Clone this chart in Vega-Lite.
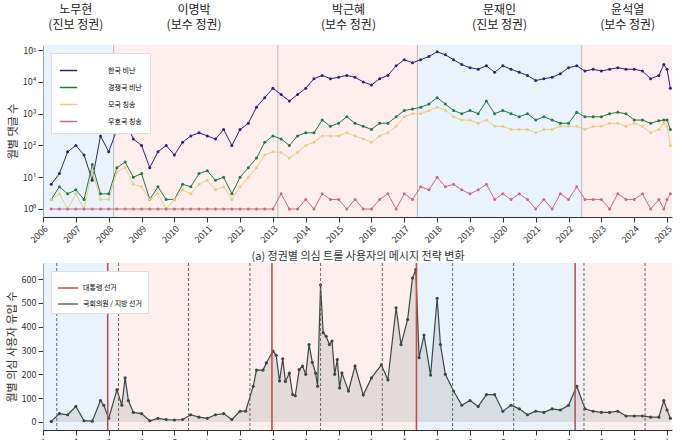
{
  "$schema": "https://vega.github.io/schema/vega-lite/v6.json",
  "background": "white",
  "padding": {"left": 6, "top": 4, "right": 5, "bottom": 0},
  "config": {
    "font": "Noto Sans CJK KR",
    "view": {"stroke": null},
    "axis": {"grid": false, "domainColor": "#333", "tickColor": "#333", "labelColor": "#333", "labelFontSize": 9, "titleFontSize": 11, "titleFontWeight": "normal", "titleColor": "#333"}
  },
  "resolve": {"scale": {"color": "independent", "fill": "independent"}, "legend": {"color": "independent"}},
  "datasets": {
    "regions": [
      {"name": "노무현", "sub": "(진보 정권)", "party": "진보", "start": 2006, "end": 2008.15, "mid": 2007.0},
      {"name": "이명박", "sub": "(보수 정권)", "party": "보수", "start": 2008.15, "end": 2013.15, "mid": 2010.6},
      {"name": "박근혜", "sub": "(보수 정권)", "party": "보수", "start": 2013.15, "end": 2017.4, "mid": 2015.3},
      {"name": "문재인", "sub": "(진보 정권)", "party": "진보", "start": 2017.4, "end": 2022.4, "mid": 2019.9},
      {"name": "윤석열", "sub": "(보수 정권)", "party": "보수", "start": 2022.4, "end": 2025.15, "mid": 2023.8}
    ],
    "elections": [
      {"t": 2007.97, "kind": "대통령 선거"},
      {"t": 2012.97, "kind": "대통령 선거"},
      {"t": 2017.37, "kind": "대통령 선거"},
      {"t": 2022.2, "kind": "대통령 선거"},
      {"t": 2006.42, "kind": "국회의원 / 지방 선거"},
      {"t": 2008.3, "kind": "국회의원 / 지방 선거"},
      {"t": 2010.43, "kind": "국회의원 / 지방 선거"},
      {"t": 2012.3, "kind": "국회의원 / 지방 선거"},
      {"t": 2014.45, "kind": "국회의원 / 지방 선거"},
      {"t": 2016.33, "kind": "국회의원 / 지방 선거"},
      {"t": 2018.47, "kind": "국회의원 / 지방 선거"},
      {"t": 2020.33, "kind": "국회의원 / 지방 선거"},
      {"t": 2022.47, "kind": "국회의원 / 지방 선거"},
      {"t": 2024.33, "kind": "국회의원 / 지방 선거"}
    ],
    "comments": [
      {"t": 2006.25, "한국 비난": 6, "경쟁국 비난": 2, "모국 칭송": 2, "우호국 칭송": 1},
      {"t": 2006.5, "한국 비난": 13, "경쟁국 비난": 5, "모국 칭송": 3, "우호국 칭송": 1},
      {"t": 2006.75, "한국 비난": 63, "경쟁국 비난": 3, "모국 칭송": 1, "우호국 칭송": 1},
      {"t": 2007.0, "한국 비난": 100, "경쟁국 비난": 4, "모국 칭송": 3, "우호국 칭송": 1},
      {"t": 2007.25, "한국 비난": 50, "경쟁국 비난": 2, "모국 칭송": 1, "우호국 칭송": 1},
      {"t": 2007.5, "한국 비난": 8, "경쟁국 비난": 25, "모국 칭송": 16, "우호국 칭송": 1},
      {"t": 2007.75, "한국 비난": 200, "경쟁국 비난": 3, "모국 칭송": 2, "우호국 칭송": 1},
      {"t": 2008.0, "한국 비난": 63, "경쟁국 비난": 3, "모국 칭송": 2, "우호국 칭송": 1},
      {"t": 2008.25, "한국 비난": 316, "경쟁국 비난": 20, "모국 칭송": 15, "우호국 칭송": 1},
      {"t": 2008.5, "한국 비난": 630, "경쟁국 비난": 30, "모국 칭송": 20, "우호국 칭송": 1},
      {"t": 2008.75, "한국 비난": 160, "경쟁국 비난": 10, "모국 칭송": 6, "우호국 칭송": 1},
      {"t": 2009.0, "한국 비난": 100, "경쟁국 비난": 13, "모국 칭송": 5, "우호국 칭송": 1},
      {"t": 2009.25, "한국 비난": 20, "경쟁국 비난": 2, "모국 칭송": 2, "우호국 칭송": 1},
      {"t": 2009.5, "한국 비난": 63, "경쟁국 비난": 5, "모국 칭송": 3, "우호국 칭송": 1},
      {"t": 2009.75, "한국 비난": 100, "경쟁국 비난": 2, "모국 칭송": 1, "우호국 칭송": 1},
      {"t": 2010.0, "한국 비난": 50, "경쟁국 비난": 2, "모국 칭송": 2, "우호국 칭송": 1},
      {"t": 2010.25, "한국 비난": 126, "경쟁국 비난": 6, "모국 칭송": 4, "우호국 칭송": 1},
      {"t": 2010.5, "한국 비난": 200, "경쟁국 비난": 5, "모국 칭송": 3, "우호국 칭송": 1},
      {"t": 2010.75, "한국 비난": 250, "경쟁국 비난": 13, "모국 칭송": 6, "우호국 칭송": 1},
      {"t": 2011.0, "한국 비난": 200, "경쟁국 비난": 16, "모국 칭송": 8, "우호국 칭송": 1},
      {"t": 2011.25, "한국 비난": 160, "경쟁국 비난": 8, "모국 칭송": 4, "우호국 칭송": 1},
      {"t": 2011.5, "한국 비난": 316, "경쟁국 비난": 10, "모국 칭송": 5, "우호국 칭송": 1},
      {"t": 2011.75, "한국 비난": 100, "경쟁국 비난": 3, "모국 칭송": 2, "우호국 칭송": 1},
      {"t": 2012.0, "한국 비난": 316, "경쟁국 비난": 10, "모국 칭송": 5, "우호국 칭송": 1},
      {"t": 2012.25, "한국 비난": 500, "경쟁국 비난": 20, "모국 칭송": 10, "우호국 칭송": 1},
      {"t": 2012.5, "한국 비난": 1600, "경쟁국 비난": 40, "모국 칭송": 20, "우호국 칭송": 1},
      {"t": 2012.75, "한국 비난": 3200, "경쟁국 비난": 126, "모국 칭송": 50, "우호국 칭송": 1},
      {"t": 2013.0, "한국 비난": 6300, "경쟁국 비난": 200, "모국 칭송": 63, "우호국 칭송": 1},
      {"t": 2013.25, "한국 비난": 4000, "경쟁국 비난": 160, "모국 칭송": 60, "우호국 칭송": 3},
      {"t": 2013.5, "한국 비난": 2500, "경쟁국 비난": 100, "모국 칭송": 40, "우호국 칭송": 1},
      {"t": 2013.75, "한국 비난": 4000, "경쟁국 비난": 200, "모국 칭송": 60, "우호국 칭송": 1},
      {"t": 2014.0, "한국 비난": 6300, "경쟁국 비난": 250, "모국 칭송": 100, "우호국 칭송": 2},
      {"t": 2014.25, "한국 비난": 12600, "경쟁국 비난": 250, "모국 칭송": 126, "우호국 칭송": 1},
      {"t": 2014.5, "한국 비난": 16000, "경쟁국 비난": 630, "모국 칭송": 200, "우호국 칭송": 3},
      {"t": 2014.75, "한국 비난": 12600, "경쟁국 비난": 400, "모국 칭송": 200, "우호국 칭송": 2},
      {"t": 2015.0, "한국 비난": 14000, "경쟁국 비난": 500, "모국 칭송": 200, "우호국 칭송": 2},
      {"t": 2015.25, "한국 비난": 16000, "경쟁국 비난": 800, "모국 칭송": 250, "우호국 칭송": 1},
      {"t": 2015.5, "한국 비난": 14000, "경쟁국 비난": 500, "모국 칭송": 200, "우호국 칭송": 2},
      {"t": 2015.75, "한국 비난": 10000, "경쟁국 비난": 400, "모국 칭송": 160, "우호국 칭송": 1},
      {"t": 2016.0, "한국 비난": 8000, "경쟁국 비난": 320, "모국 칭송": 126, "우호국 칭송": 1},
      {"t": 2016.25, "한국 비난": 12600, "경쟁국 비난": 500, "모국 칭송": 200, "우호국 칭송": 2},
      {"t": 2016.5, "한국 비난": 16000, "경쟁국 비난": 500, "모국 칭송": 250, "우호국 칭송": 3},
      {"t": 2016.75, "한국 비난": 32000, "경쟁국 비난": 800, "모국 칭송": 400, "우호국 칭송": 1},
      {"t": 2017.0, "한국 비난": 50000, "경쟁국 비난": 1260, "모국 칭송": 800, "우호국 칭송": 3},
      {"t": 2017.25, "한국 비난": 40000, "경쟁국 비난": 1400, "모국 칭송": 1000, "우호국 칭송": 2},
      {"t": 2017.5, "한국 비난": 50000, "경쟁국 비난": 1600, "모국 칭송": 1000, "우호국 칭송": 5},
      {"t": 2017.75, "한국 비난": 63000, "경쟁국 비난": 2000, "모국 칭송": 1260, "우호국 칭송": 4},
      {"t": 2018.0, "한국 비난": 89000, "경쟁국 비난": 3200, "모국 칭송": 1600, "우호국 칭송": 10},
      {"t": 2018.25, "한국 비난": 71000, "경쟁국 비난": 2000, "모국 칭송": 1260, "우호국 칭송": 5},
      {"t": 2018.5, "한국 비난": 50000, "경쟁국 비난": 1260, "모국 칭송": 800, "우호국 칭송": 6},
      {"t": 2018.75, "한국 비난": 35000, "경쟁국 비난": 1000, "모국 칭송": 630, "우호국 칭송": 4},
      {"t": 2019.0, "한국 비난": 28000, "경쟁국 비난": 1260, "모국 칭송": 630, "우호국 칭송": 3},
      {"t": 2019.25, "한국 비난": 25000, "경쟁국 비난": 1000, "모국 칭송": 500, "우호국 칭송": 4},
      {"t": 2019.5, "한국 비난": 32000, "경쟁국 비난": 2500, "모국 칭송": 630, "우호국 칭송": 6},
      {"t": 2019.75, "한국 비난": 20000, "경쟁국 비난": 1000, "모국 칭송": 400, "우호국 칭송": 2},
      {"t": 2020.0, "한국 비난": 32000, "경쟁국 비난": 1260, "모국 칭송": 400, "우호국 칭송": 3},
      {"t": 2020.25, "한국 비난": 25000, "경쟁국 비난": 1000, "모국 칭송": 320, "우호국 칭송": 2},
      {"t": 2020.5, "한국 비난": 20000, "경쟁국 비난": 800, "모국 칭송": 320, "우호국 칭송": 3},
      {"t": 2020.75, "한국 비난": 16000, "경쟁국 비난": 1000, "모국 칭송": 320, "우호국 칭송": 2},
      {"t": 2021.0, "한국 비난": 11000, "경쟁국 비난": 630, "모국 칭송": 250, "우호국 칭송": 1},
      {"t": 2021.25, "한국 비난": 12600, "경쟁국 비난": 800, "모국 칭송": 320, "우호국 칭송": 2},
      {"t": 2021.5, "한국 비난": 14000, "경쟁국 비난": 630, "모국 칭송": 320, "우호국 칭송": 1},
      {"t": 2021.75, "한국 비난": 18000, "경쟁국 비난": 500, "모국 칭송": 400, "우호국 칭송": 3},
      {"t": 2022.0, "한국 비난": 28000, "경쟁국 비난": 500, "모국 칭송": 400, "우호국 칭송": 2},
      {"t": 2022.25, "한국 비난": 32000, "경쟁국 비난": 1100, "모국 칭송": 400, "우호국 칭송": 5},
      {"t": 2022.5, "한국 비난": 22000, "경쟁국 비난": 800, "모국 칭송": 320, "우호국 칭송": 2},
      {"t": 2022.75, "한국 비난": 25000, "경쟁국 비난": 800, "모국 칭송": 400, "우호국 칭송": 2},
      {"t": 2023.0, "한국 비난": 22000, "경쟁국 비난": 800, "모국 칭송": 400, "우호국 칭송": 2},
      {"t": 2023.25, "한국 비난": 25000, "경쟁국 비난": 1000, "모국 칭송": 500, "우호국 칭송": 1},
      {"t": 2023.5, "한국 비난": 28000, "경쟁국 비난": 1100, "모국 칭송": 500, "우호국 칭송": 3},
      {"t": 2023.75, "한국 비난": 25000, "경쟁국 비난": 1000, "모국 칭송": 400, "우호국 칭송": 2},
      {"t": 2024.0, "한국 비난": 25000, "경쟁국 비난": 630, "모국 칭송": 500, "우호국 칭송": 2},
      {"t": 2024.25, "한국 비난": 22000, "경쟁국 비난": 630, "모국 칭송": 400, "우호국 칭송": 3},
      {"t": 2024.5, "한국 비난": 12600, "경쟁국 비난": 500, "모국 칭송": 250, "우호국 칭송": 1},
      {"t": 2024.75, "한국 비난": 16000, "경쟁국 비난": 600, "모국 칭송": 320, "우호국 칭송": 2},
      {"t": 2024.9, "한국 비난": 35000, "경쟁국 비난": 630, "모국 칭송": 500, "우호국 칭송": 1},
      {"t": 2025.0, "한국 비난": 25000, "경쟁국 비난": 630, "모국 칭송": 400, "우호국 칭송": 2},
      {"t": 2025.1, "한국 비난": 6300, "경쟁국 비난": 320, "모국 칭송": 100, "우호국 칭송": 3}
    ],
    "inflow": [
      {"t": 2006.25, "n": 2}, {"t": 2006.5, "n": 35}, {"t": 2006.75, "n": 30}, {"t": 2007.0, "n": 65},
      {"t": 2007.25, "n": 5}, {"t": 2007.5, "n": 3}, {"t": 2007.75, "n": 90}, {"t": 2007.85, "n": 70},
      {"t": 2008.0, "n": 15}, {"t": 2008.25, "n": 135}, {"t": 2008.4, "n": 70}, {"t": 2008.5, "n": 185},
      {"t": 2008.6, "n": 90}, {"t": 2008.75, "n": 40}, {"t": 2009.0, "n": 35}, {"t": 2009.25, "n": 5},
      {"t": 2009.5, "n": 15}, {"t": 2009.75, "n": 10}, {"t": 2010.0, "n": 8}, {"t": 2010.25, "n": 10},
      {"t": 2010.5, "n": 30}, {"t": 2010.75, "n": 20}, {"t": 2011.0, "n": 15}, {"t": 2011.25, "n": 30},
      {"t": 2011.5, "n": 35}, {"t": 2011.75, "n": 10}, {"t": 2012.0, "n": 45}, {"t": 2012.17, "n": 45},
      {"t": 2012.4, "n": 150}, {"t": 2012.5, "n": 218}, {"t": 2012.7, "n": 218}, {"t": 2012.8, "n": 248},
      {"t": 2013.0, "n": 298}, {"t": 2013.1, "n": 280}, {"t": 2013.2, "n": 172}, {"t": 2013.3, "n": 265},
      {"t": 2013.38, "n": 170}, {"t": 2013.5, "n": 205}, {"t": 2013.6, "n": 115}, {"t": 2013.68, "n": 110},
      {"t": 2013.8, "n": 220}, {"t": 2013.9, "n": 235}, {"t": 2014.0, "n": 200}, {"t": 2014.1, "n": 325},
      {"t": 2014.2, "n": 250}, {"t": 2014.3, "n": 205}, {"t": 2014.36, "n": 150}, {"t": 2014.45, "n": 575},
      {"t": 2014.53, "n": 375}, {"t": 2014.62, "n": 360}, {"t": 2014.72, "n": 325}, {"t": 2014.8, "n": 340},
      {"t": 2014.88, "n": 200}, {"t": 2014.96, "n": 262}, {"t": 2015.03, "n": 143}, {"t": 2015.1, "n": 206},
      {"t": 2015.3, "n": 130}, {"t": 2015.5, "n": 235}, {"t": 2015.75, "n": 113}, {"t": 2016.0, "n": 185},
      {"t": 2016.3, "n": 240}, {"t": 2016.5, "n": 177}, {"t": 2016.75, "n": 480}, {"t": 2016.9, "n": 325},
      {"t": 2017.1, "n": 430}, {"t": 2017.25, "n": 605}, {"t": 2017.35, "n": 640}, {"t": 2017.45, "n": 270},
      {"t": 2017.6, "n": 365}, {"t": 2017.8, "n": 197}, {"t": 2018.0, "n": 520}, {"t": 2018.1, "n": 325},
      {"t": 2018.25, "n": 200}, {"t": 2018.5, "n": 130}, {"t": 2018.75, "n": 70}, {"t": 2019.0, "n": 90},
      {"t": 2019.25, "n": 65}, {"t": 2019.5, "n": 115}, {"t": 2019.75, "n": 115}, {"t": 2020.0, "n": 45},
      {"t": 2020.25, "n": 70}, {"t": 2020.5, "n": 55}, {"t": 2020.75, "n": 30}, {"t": 2021.0, "n": 45},
      {"t": 2021.25, "n": 40}, {"t": 2021.5, "n": 55}, {"t": 2021.75, "n": 50}, {"t": 2022.0, "n": 70},
      {"t": 2022.25, "n": 150}, {"t": 2022.5, "n": 55}, {"t": 2022.75, "n": 45}, {"t": 2023.0, "n": 40},
      {"t": 2023.25, "n": 40}, {"t": 2023.5, "n": 45}, {"t": 2023.75, "n": 25}, {"t": 2024.0, "n": 25},
      {"t": 2024.25, "n": 25}, {"t": 2024.5, "n": 20}, {"t": 2024.75, "n": 20}, {"t": 2024.9, "n": 90},
      {"t": 2025.0, "n": 50}, {"t": 2025.1, "n": 15}
    ]
  },
  "vconcat": [
    {
      "width": 629,
      "height": 172,
      "encoding": {
        "x": {"type": "quantitative", "scale": {"domain": [2006, 2025.15], "nice": false, "zero": false},
          "axis": {"values": [2006,2007,2008,2009,2010,2011,2012,2013,2014,2015,2016,2017,2018,2019,2020,2021,2022,2023,2024,2025], "format": "d", "labelAngle": -45, "labelAlign": "right", "labelBaseline": "top", "title": "(a) 정권별 의심 트롤 사용자의 메시지 전략 변화", "titlePadding": 6}}
      },
      "layer": [
        {
          "data": {"name": "regions"},
          "mark": {"type": "rect", "opacity": 0.6},
          "encoding": {
            "x": {"field": "start"}, "x2": {"field": "end"},
            "fill": {"field": "party", "type": "nominal", "scale": {"domain": ["진보", "보수"], "range": ["#dcebfa", "#fde3e3"]}, "legend": null}
          }
        },
        {
          "data": {"name": "regions"},
          "transform": [{"filter": "datum.start > 2006"}],
          "mark": {"type": "rule", "color": "#bbbbbb", "strokeWidth": 1},
          "encoding": {"x": {"field": "start"}}
        },
        {
          "data": {"name": "regions"},
          "mark": {"type": "text", "fontSize": 12, "color": "#222", "baseline": "bottom", "dy": -6},
          "encoding": {"x": {"field": "mid"}, "y": {"datum": 700000, "type": "quantitative"}, "text": {"field": "name"}}
        },
        {
          "data": {"name": "regions"},
          "mark": {"type": "text", "fontSize": 12, "color": "#222", "baseline": "bottom", "dy": -6},
          "encoding": {"x": {"field": "mid"}, "y": {"datum": 240000, "type": "quantitative"}, "text": {"field": "sub"}}
        },
        {
          "data": {"name": "comments"},
          "transform": [{"fold": ["한국 비난", "경쟁국 비난", "모국 칭송", "우호국 칭송"], "as": ["series", "value"]}],
          "mark": {"type": "line", "strokeWidth": 1, "point": {"filled": true, "size": 9}},
          "encoding": {
            "x": {"field": "t"},
            "y": {"field": "value", "type": "quantitative",
              "scale": {"type": "log", "domain": [0.56, 145000], "nice": false},
              "axis": {"values": [1, 10, 100, 1000, 10000, 100000], "labelExpr": "'10' + ['⁰','¹','²','³','⁴','⁵'][round(log(datum.value)/LN10)]", "title": "월별 댓글 수", "titlePadding": 4}},
            "color": {"field": "series", "type": "nominal", "sort": ["한국 비난", "경쟁국 비난", "모국 칭송", "우호국 칭송"],
              "scale": {"domain": ["한국 비난", "경쟁국 비난", "모국 칭송", "우호국 칭송"], "range": ["#2e2477", "#1f7a46", "#e5cf82", "#c96a80"]},
              "legend": {"orient": "top-left", "title": null, "fillColor": "white", "strokeColor": "#dddddd", "padding": 8, "labelFontSize": 7, "symbolType": "stroke", "symbolSize": 300, "rowPadding": 4, "labelOffset": 30, "offset": 8}}
          }
        }
      ]
    },
    {
      "width": 629,
      "height": 167,
      "encoding": {
        "x": {"type": "quantitative", "scale": {"domain": [2006, 2025.15], "nice": false, "zero": false},
          "axis": {"values": [2006,2007,2008,2009,2010,2011,2012,2013,2014,2015,2016,2017,2018,2019,2020,2021,2022,2023,2024,2025], "format": "d", "labelAngle": -45, "labelAlign": "right", "labelBaseline": "top", "title": null}}
      },
      "layer": [
        {
          "data": {"name": "regions"},
          "mark": {"type": "rect", "opacity": 0.6},
          "encoding": {
            "x": {"field": "start"}, "x2": {"field": "end"},
            "fill": {"field": "party", "type": "nominal", "scale": {"domain": ["진보", "보수"], "range": ["#dcebfa", "#fde3e3"]}, "legend": null}
          }
        },
        {
          "data": {"name": "inflow"},
          "mark": {"type": "area", "color": "#b5b5b5", "opacity": 0.35, "line": {"color": "#3a4845", "strokeWidth": 1.2, "opacity": 1}, "point": {"color": "#3a4845", "size": 10, "filled": true, "opacity": 1}},
          "encoding": {
            "x": {"field": "t"},
            "y": {"field": "n", "type": "quantitative", "scale": {"domain": [-34, 668], "nice": false, "zero": false},
              "axis": {"values": [0, 100, 200, 300, 400, 500, 600], "title": "월별 의심 사용자 유입 수", "titlePadding": 4}}
          }
        },
        {
          "data": {"name": "elections"},
          "mark": {"type": "rule"},
          "encoding": {
            "x": {"field": "t"},
            "color": {"field": "kind", "type": "nominal", "scale": {"domain": ["대통령 선거", "국회의원 / 지방 선거"], "range": ["#c0504d", "#666666"]},
              "legend": {"orient": "top-left", "title": null, "fillColor": "white", "strokeColor": "#dddddd", "padding": 6, "labelFontSize": 7, "symbolType": "stroke", "symbolSize": 400, "offset": 8}},
            "strokeDash": {"field": "kind", "type": "nominal", "scale": {"domain": ["대통령 선거", "국회의원 / 지방 선거"], "range": [[1, 0], [3, 2]]}},
            "strokeWidth": {"field": "kind", "type": "nominal", "scale": {"domain": ["대통령 선거", "국회의원 / 지방 선거"], "range": [1.6, 1]}, "legend": null}
          }
        }
      ]
    }
  ],
  "spacing": 0
}
